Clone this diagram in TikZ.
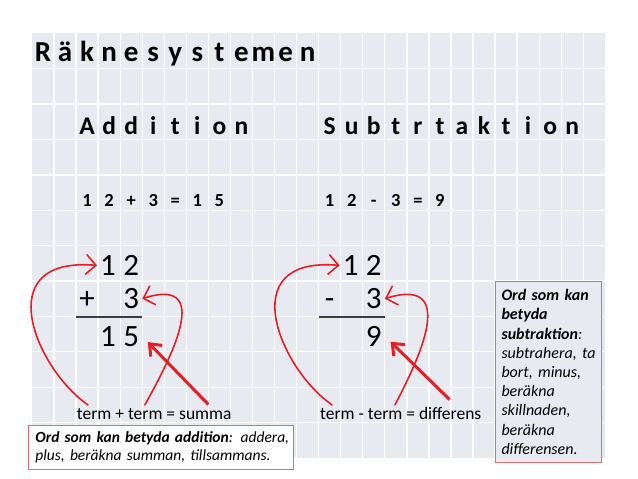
\documentclass[tikz,border=0pt]{standalone}
\usepackage{fontspec}
\setmainfont{Carlito}
\usetikzlibrary{arrows.meta}

\definecolor{gridbg}{RGB}{231,235,241}
\definecolor{penred}{RGB}{232,30,36}
\definecolor{boxred}{RGB}{222,110,110}
\definecolor{inkgray}{RGB}{60,60,60}

\begin{document}
\begin{tikzpicture}[x=22.05pt, y=-35.39pt,
	gridline/.style={white, line width=1.3pt},
	titlechar/.style={anchor=base, inner sep=0pt, font=\fontsize{29}{30}\selectfont\bfseries},
	headchar/.style={anchor=base, inner sep=0pt, font=\fontsize{25.5}{26}\selectfont\bfseries},
	eqchar/.style={anchor=base, inner sep=0pt, font=\fontsize{18.5}{19}\selectfont\bfseries},
	digit/.style={anchor=base, inner sep=3pt, font=\fontsize{31}{31}\selectfont},
	termlabel/.style={anchor=base west, inner sep=0pt, font=\fontsize{17.5}{18}\selectfont},
	wordbox/.style={draw=boxred, line width=0.9pt, align=left, anchor=north west},
	handarrow/.style={penred, line width=1.6pt, line cap=round, -{Straight Barb[length=10pt,width=20pt,line width=1.6pt]}},
	bigarrow/.style={penred, line width=3pt, shorten >=8pt, -{Straight Barb[length=10pt,width=16pt,line width=3pt]}}]

	\useasboundingbox (-1.451,-0.941) rectangle (27.483,12.566);

	%Grid
	\fill[gridbg] (0,0) rectangle (26,12);
	\foreach \gx in {1,...,25}
		\draw[gridline] (\gx,0) -- (\gx,12);
	\foreach \gy in {1,...,11}
		\draw[gridline] (0,\gy) -- (26,\gy);

	%Title
	\foreach \ch [count=\i from 0] in {R,ä,k,n,e,s,y,s,t,e,m,e,n}
		\node[titlechar] (title\i) at (\i+0.5,0.80) {\ch};

	%Headings
	\foreach \ch [count=\i from 2] in {A,d,d,i,t,i,o,n}
		\node[headchar] (addHead\i) at (\i+0.5,2.854) {\ch};
	\foreach \ch [count=\i from 13] in {S,u,b,t,r,t,a,k,t,i,o,n}
		\node[headchar] (subHead\i) at (\i+0.5,2.854) {\ch};

	%Equations
	\foreach \ch [count=\i from 2] in {1,2,+,3,=,1,5}
		\node[eqchar] (addEq\i) at (\i+0.5,4.90) {\ch};
	\foreach \ch [count=\i from 13] in {1,2,-,3,=,9}
		\node[eqchar] (subEq\i) at (\i+0.5,4.90) {\ch};

	%Addition, set up
	\node[digit] (addTop1) at (3.45,6.84) {1};
	\node[digit] (addTop2) at (4.5,6.84) {2};
	\node[digit] (addOp) at (2.5,7.78) {+};
	\node[digit] (addTerm) at (4.5,7.78) {3};
	\draw[inkgray, line width=1.3pt] (2,8.02) -- (5,8.02);
	\node[digit] (addSum1) at (3.45,8.84) {1};
	\node[digit] (addSum2) at (4.5,8.84) {5};

	%Subtraction, set up
	\node[digit] (subTop1) at (14.45,6.84) {1};
	\node[digit] (subTop2) at (15.5,6.84) {2};
	\node[digit] (subOp) at (13.5,7.78) {-};
	\node[digit] (subTerm) at (15.5,7.78) {3};
	\draw[inkgray, line width=1.3pt] (13,8.02) -- (16,8.02);
	\node[digit] (subDiff) at (15.5,8.84) {9};

	%Names of the parts
	\node[termlabel] (addNames) at (2.03,10.91) {term + term = summa};
	\node[termlabel] (subNames) at (13.06,10.91) {term - term = differens};
	\coordinate (addT1) at (2.54,10.5);
	\coordinate (addT2) at (5.12,10.5);
	\coordinate (addSumma) at (8.0,10.49);
	\coordinate (subT1) at (13.61,10.5);
	\coordinate (subT2) at (16.46,10.5);
	\coordinate (subDifferens) at (18.94,10.35);

	%Red arrows
	\draw[handarrow] (addT1) .. controls (0.2,9.5) and (-2.0,6.3) .. (addTop1.west);
	\draw[handarrow] (addT2) .. controls (5.9,9.6) and (8.5,6.8) .. (addTerm.east);
	\draw[bigarrow] (addSumma) -- (addSum2.east);
	\draw[handarrow] (subT1) .. controls (11.27,9.5) and (9.07,6.3) .. (subTop1.west);
	\draw[handarrow] (subT2) .. controls (17.2,9.6) and (19.6,6.8) .. (subTerm.east);
	\draw[bigarrow] (subDifferens) -- (subDiff.east);

	%Word boxes
	\node[wordbox, fill=white, text width=251pt, inner xsep=7pt, inner ysep=6.5pt,
		font=\fontsize{15.5}{17.5}\selectfont\itshape] (addWords) at (-0.18,11.07)
		{\mbox{\textbf{Ord som kan betyda addition}: addera,}\\ \mbox{plus, beräkna summan, tillsammans.}};
	\node[wordbox, fill=gridbg, text width=94pt, inner xsep=6pt, minimum height=181pt,
		font=\fontsize{16}{19.2}\selectfont\itshape] (subWords) at (21.0,7.0)
		{\textbf{Ord som kan}\\ \textbf{betyda}\\ \textbf{subtraktion}:\\ subtrahera, ta\\ bort, minus,\\ beräkna\\ skillnaden,\\ beräkna\\ differensen.};

\end{tikzpicture}
\end{document}
